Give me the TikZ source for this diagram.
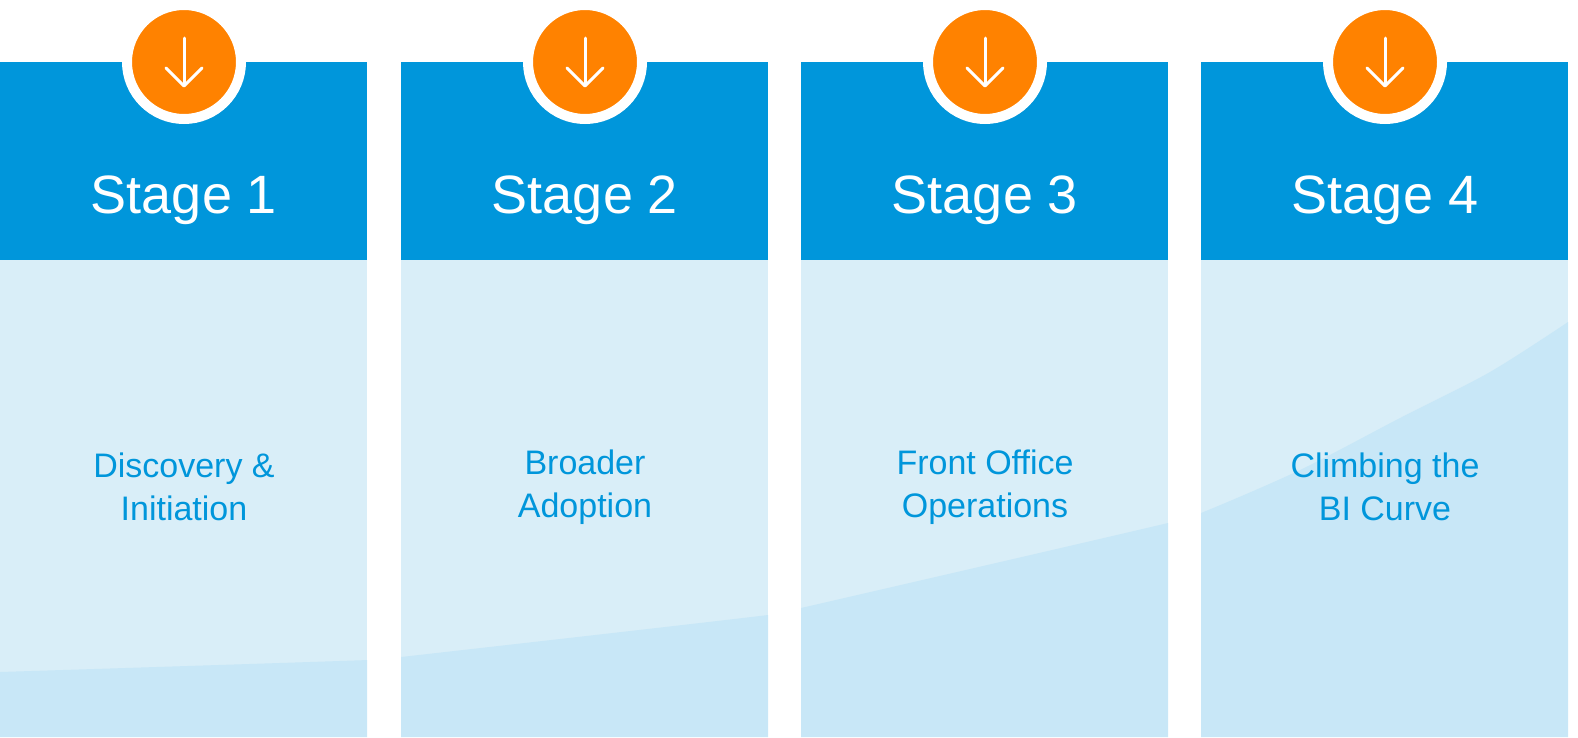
\documentclass[tikz,border=0pt]{standalone}
\usepackage{fontspec}
\setmainfont{Liberation Sans}
\definecolor{hblue}{HTML}{0096DB}
\definecolor{lbody}{HTML}{D9EEF8}
\definecolor{lcurve}{HTML}{C8E7F7}
\definecolor{orng}{HTML}{FF8200}
\begin{document}
\begin{tikzpicture}[x=1pt,y=-1pt,
  hdr/.style={fill=hblue},
  bodybox/.style={fill=lbody},
  ttl/.style={text=white,font=\fontsize{54}{58}\selectfont},
  sub/.style={text=hblue,font=\fontsize{34}{43}\selectfont,align=center},
  badge/.style={circle,fill=orng,draw=white,line width=10pt,minimum size=114pt,inner sep=0pt},
  arr/.style={draw=white,line width=3pt,line cap=round,line join=round}]
\useasboundingbox (0,0) rectangle (1578,737);
\def\curvepath{plot[smooth,tension=0.5] coordinates {(0,672) (368,660) (401,657) (768,615) (801,608) (1168,523) (1201,513) (1300,470) (1400,418) (1490,372) (1568,322)} -- (1578,737) -- (0,737) -- cycle}
\foreach \i/\x/\t/\s in {1/0/Stage 1/{Discovery \&\\Initiation},2/401/Stage 2/{Broader\\Adoption},3/801/Stage 3/{Front Office\\Operations},4/1201/Stage 4/{Climbing the\\BI Curve}}{
  \fill[hdr] (\x,62) rectangle ++(367,198);
  \fill[bodybox] (\x,260) rectangle ++(367,477);
  \begin{scope}
    \clip (\x,260) rectangle ++(367,477);
    \fill[lcurve] \curvepath;
  \end{scope}
  \node[ttl] (t\i) at (\x+184,200) {\t};
  \node[sub] (s\i) at (\x+184,487) {\s};
  \node[badge] (b\i) at (\x+184,62) {};
  \draw[arr] (\x+184,38) -- (\x+184,85);
  \draw[arr] (\x+166,68) -- (\x+184,86) -- (\x+202,68);
}
\end{tikzpicture}
\end{document}
